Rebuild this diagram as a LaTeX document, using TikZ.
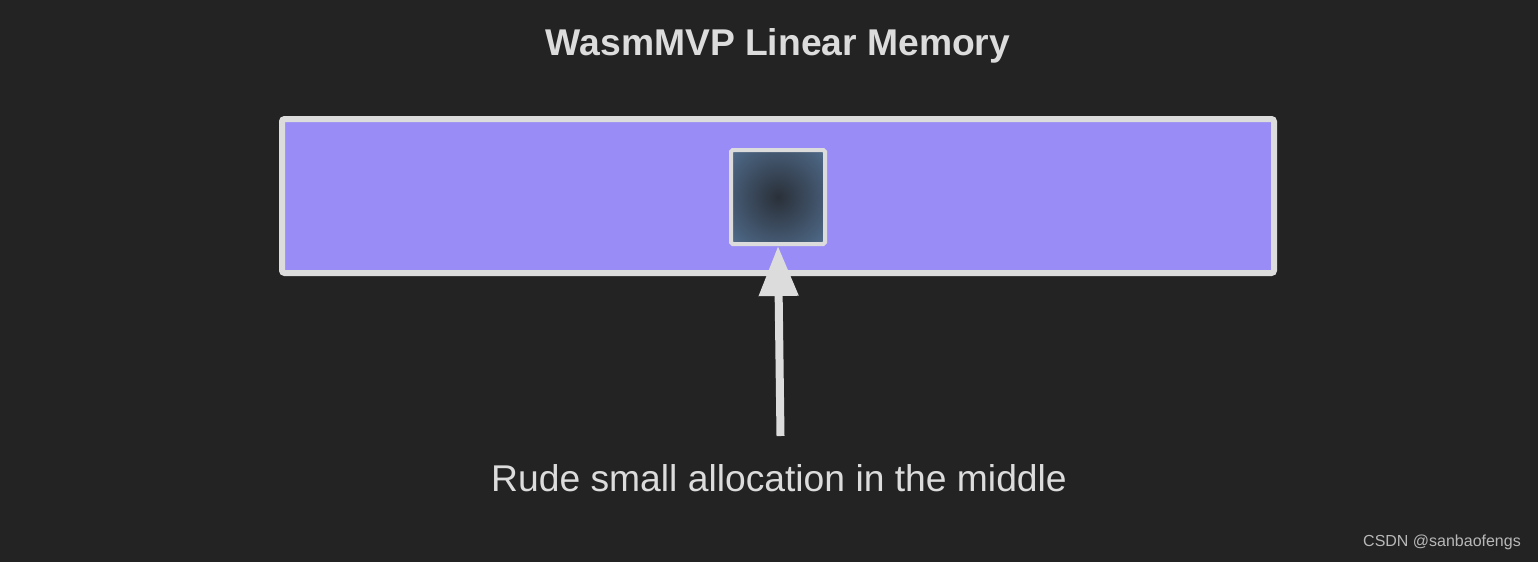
\documentclass[tikz,border=0pt]{standalone}
\usepackage{fontspec}
\setmainfont{Liberation Sans}
\usetikzlibrary{arrows.meta}
\definecolor{bg}{HTML}{232323}
\definecolor{mem}{HTML}{9A8CF7}
\definecolor{edge}{HTML}{DCDCDC}
\definecolor{sqin}{HTML}{2A3039}
\definecolor{sqout}{HTML}{4F6A89}
\definecolor{wm}{HTML}{B8B8B8}
\pgfdeclareradialshading{allocshade}{\pgfpoint{0bp}{0bp}}{color(0bp)=(sqin); color(34bp)=(sqout); color(50bp)=(sqout)}
\tikzset{
  membox/.style={draw=edge, fill=mem, line width=6*0.569pt, rounded corners=1.5pt},
  allocbox/.style={draw=edge, shading=allocshade, line width=4*0.569pt, rounded corners=1pt},
  pointer/.style={draw=edge, line width=8*0.569pt, -{Triangle[length=50*0.569pt, width=38*0.569pt]}},
  txt/.style={text=edge, inner sep=0pt}
}
\begin{document}
\begin{tikzpicture}[x=0.02cm, y=-0.02cm]
\fill[bg] (0,0) rectangle (1538,562);
\useasboundingbox (0,0) rectangle (1538,562);
\node[txt, font=\bfseries\fontsize{21.2pt}{24pt}\selectfont] (title) at (778,46) {WasmMVP Linear Memory};
\draw[membox] (282,119) rectangle (1274,273);
\node[allocbox, minimum width=94*0.02cm, minimum height=94*0.02cm, inner sep=0pt] (sq) at (778,197) {};
\node[txt, font=\fontsize{21.2pt}{24pt}\selectfont] (lab) at (779,478) {Rude small allocation in the middle};
\coordinate (tail) at (780.5,436);
\draw[pointer] (tail) -- (sq.south);
\node[txt, text=wm, font=\fontsize{9.1pt}{11pt}\selectfont] (mark) at (1442,542) {CSDN @sanbaofengs};
\end{tikzpicture}
\end{document}
